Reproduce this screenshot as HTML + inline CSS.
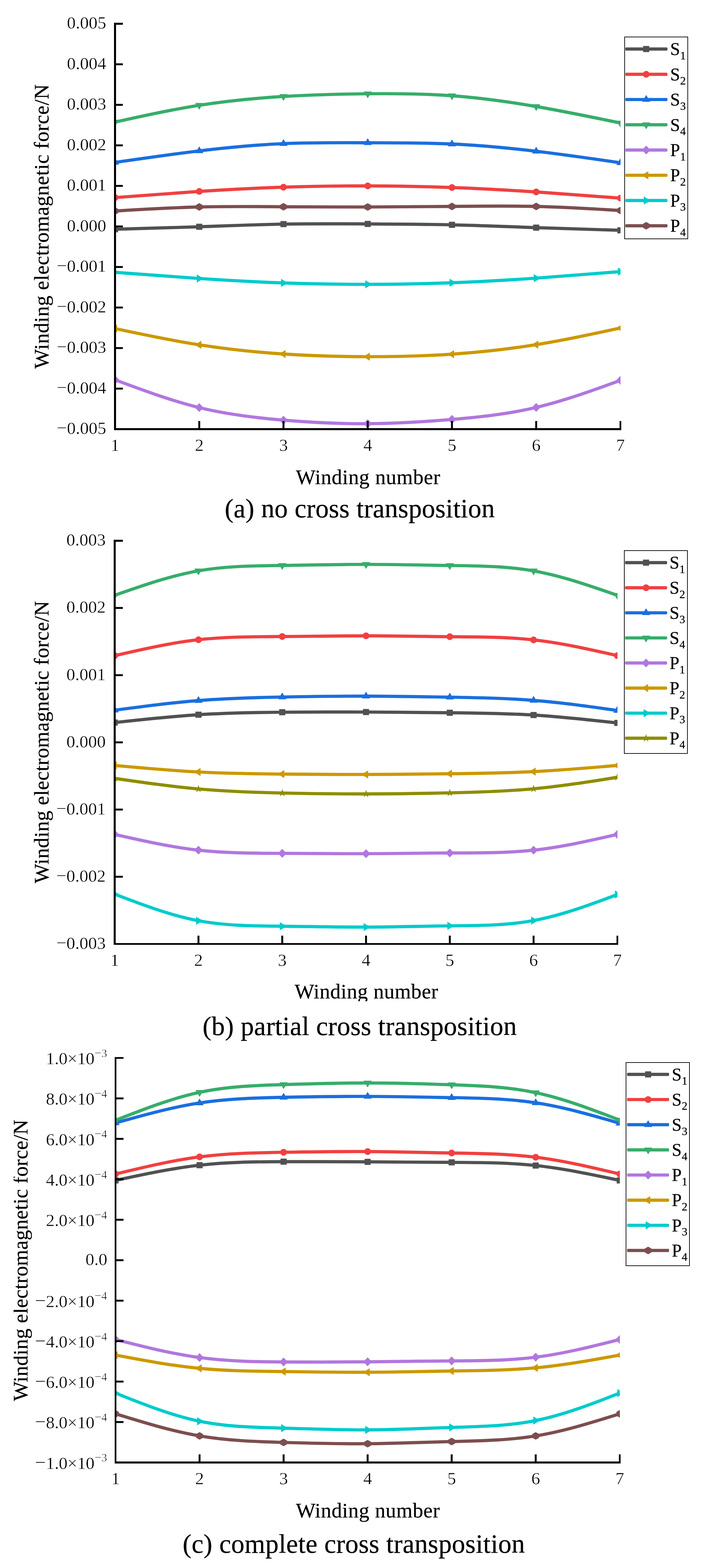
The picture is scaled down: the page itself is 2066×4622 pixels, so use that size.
<!DOCTYPE html>
<html lang="en">
<head>
<meta charset="utf-8">
<title>Winding electromagnetic force under different cross transposition schemes</title>
<style>
html,body{margin:0;padding:0;background:#ffffff;}
body{width:2066px;height:4622px;overflow:hidden;}
svg{display:block;}
svg text{font-family:'Liberation Serif', 'DejaVu Serif', serif;fill:#000;}
svg .t text{stroke:#fff;stroke-width:0.6px;}
svg .t text.ti,svg .t text.lg,svg #captions text{stroke:#000;stroke-width:0.35px;}
</style>
</head>
<body>
<svg width="2066" height="4622" viewBox="0 0 2066 4622">
<rect width="2066" height="4622" fill="#ffffff"/>
<g id="chart1" class="t">
<clipPath id="clip1"><rect x="339" y="67" width="1489.8" height="1198"/></clipPath>
<g clip-path="url(#clip1)">
<path d="M339,675.8C421.75,673.59 504.5,671.37 587.25,668.5C670,665.63 752.75,662.09 835.5,660.6C918.25,659.11 1001,659.67 1083.75,660.1C1166.5,660.53 1249.25,660.82 1332,662.7C1414.75,664.58 1497.5,668.04 1580.25,671C1663,673.96 1745.75,676.43 1828.5,678.9" fill="none" stroke="#515151" stroke-width="9.4" stroke-linejoin="round"/>
<rect x="330" y="666.8" width="18" height="18" fill="#515151"/>
<rect x="578.25" y="659.5" width="18" height="18" fill="#515151"/>
<rect x="826.5" y="651.6" width="18" height="18" fill="#515151"/>
<rect x="1074.75" y="651.1" width="18" height="18" fill="#515151"/>
<rect x="1323" y="653.7" width="18" height="18" fill="#515151"/>
<rect x="1571.25" y="662" width="18" height="18" fill="#515151"/>
<rect x="1819.5" y="669.9" width="18" height="18" fill="#515151"/>
<path d="M339,582.4C421.75,575.99 504.5,569.59 587.25,564.2C670,558.81 752.75,554.45 835.5,551.7C918.25,548.95 1001,547.82 1083.75,548C1166.5,548.18 1249.25,549.66 1332,552.7C1414.75,555.74 1497.5,560.32 1580.25,565.8C1663,571.28 1745.75,577.64 1828.5,584" fill="none" stroke="#F14040" stroke-width="9.4" stroke-linejoin="round"/>
<circle cx="339" cy="582.4" r="10" fill="#F14040"/>
<circle cx="587.25" cy="564.2" r="10" fill="#F14040"/>
<circle cx="835.5" cy="551.7" r="10" fill="#F14040"/>
<circle cx="1083.75" cy="548" r="10" fill="#F14040"/>
<circle cx="1332" cy="552.7" r="10" fill="#F14040"/>
<circle cx="1580.25" cy="565.8" r="10" fill="#F14040"/>
<circle cx="1828.5" cy="584" r="10" fill="#F14040"/>
<path d="M339,478.7C421.75,466.72 504.5,454.74 587.25,444.8C670,434.86 752.75,426.97 835.5,423.4C918.25,419.83 1001,420.57 1083.75,420.8C1166.5,421.03 1249.25,420.75 1332,424.5C1414.75,428.25 1497.5,436.03 1580.25,445.9C1663,455.77 1745.75,467.74 1828.5,479.7" fill="none" stroke="#1A6FDF" stroke-width="9.4" stroke-linejoin="round"/>
<polygon points="339,465.4 351,485.4 327,485.4" fill="#1A6FDF"/>
<polygon points="587.25,431.5 599.25,451.5 575.25,451.5" fill="#1A6FDF"/>
<polygon points="835.5,410.1 847.5,430.1 823.5,430.1" fill="#1A6FDF"/>
<polygon points="1083.75,407.5 1095.75,427.5 1071.75,427.5" fill="#1A6FDF"/>
<polygon points="1332,411.2 1344,431.2 1320,431.2" fill="#1A6FDF"/>
<polygon points="1580.25,432.6 1592.25,452.6 1568.25,452.6" fill="#1A6FDF"/>
<polygon points="1828.5,466.4 1840.5,486.4 1816.5,486.4" fill="#1A6FDF"/>
<path d="M339,359.8C421.75,341.58 504.5,323.37 587.25,310.3C670,297.23 752.75,289.31 835.5,284.3C918.25,279.29 1001,277.18 1083.75,276.4C1166.5,275.62 1249.25,276.18 1332,282.2C1414.75,288.22 1497.5,299.71 1580.25,314C1663,328.29 1745.75,345.4 1828.5,362.5" fill="none" stroke="#37AD6B" stroke-width="9.4" stroke-linejoin="round"/>
<polygon points="339,373.1 351,353.1 327,353.1" fill="#37AD6B"/>
<polygon points="587.25,323.6 599.25,303.6 575.25,303.6" fill="#37AD6B"/>
<polygon points="835.5,297.6 847.5,277.6 823.5,277.6" fill="#37AD6B"/>
<polygon points="1083.75,289.7 1095.75,269.7 1071.75,269.7" fill="#37AD6B"/>
<polygon points="1332,295.5 1344,275.5 1320,275.5" fill="#37AD6B"/>
<polygon points="1580.25,327.3 1592.25,307.3 1568.25,307.3" fill="#37AD6B"/>
<polygon points="1828.5,375.8 1840.5,355.8 1816.5,355.8" fill="#37AD6B"/>
<path d="M339,1119.6C421.75,1150.4 504.5,1181.2 587.25,1201.5C670,1221.8 752.75,1231.6 835.5,1238.5C918.25,1245.4 1001,1249.41 1083.75,1248.9C1166.5,1248.39 1249.25,1243.37 1332,1236.4C1414.75,1229.43 1497.5,1220.52 1580.25,1201C1663,1181.48 1745.75,1151.34 1828.5,1121.2" fill="none" stroke="#B177DE" stroke-width="9.4" stroke-linejoin="round"/>
<polygon points="339,1106.5 351.6,1119.6 339,1132.7 326.4,1119.6" fill="#B177DE"/>
<polygon points="587.25,1188.4 599.85,1201.5 587.25,1214.6 574.65,1201.5" fill="#B177DE"/>
<polygon points="835.5,1225.4 848.1,1238.5 835.5,1251.6 822.9,1238.5" fill="#B177DE"/>
<polygon points="1083.75,1235.8 1096.35,1248.9 1083.75,1262 1071.15,1248.9" fill="#B177DE"/>
<polygon points="1332,1223.3 1344.6,1236.4 1332,1249.5 1319.4,1236.4" fill="#B177DE"/>
<polygon points="1580.25,1187.9 1592.85,1201 1580.25,1214.1 1567.65,1201" fill="#B177DE"/>
<polygon points="1828.5,1108.1 1841.1,1121.2 1828.5,1134.3 1815.9,1121.2" fill="#B177DE"/>
<path d="M339,968.5C421.75,985.94 504.5,1003.37 587.25,1016.4C670,1029.43 752.75,1038.04 835.5,1043.5C918.25,1048.96 1001,1051.25 1083.75,1051.4C1166.5,1051.55 1249.25,1049.55 1332,1044C1414.75,1038.45 1497.5,1029.34 1580.25,1015.9C1663,1002.46 1745.75,984.68 1828.5,966.9" fill="none" stroke="#CC9900" stroke-width="9.4" stroke-linejoin="round"/>
<polygon points="325.7,968.5 345.2,956.5 345.2,980.5" fill="#CC9900"/>
<polygon points="573.95,1016.4 593.45,1004.4 593.45,1028.4" fill="#CC9900"/>
<polygon points="822.2,1043.5 841.7,1031.5 841.7,1055.5" fill="#CC9900"/>
<polygon points="1070.45,1051.4 1089.95,1039.4 1089.95,1063.4" fill="#CC9900"/>
<polygon points="1318.7,1044 1338.2,1032 1338.2,1056" fill="#CC9900"/>
<polygon points="1566.95,1015.9 1586.45,1003.9 1586.45,1027.9" fill="#CC9900"/>
<polygon points="1815.2,966.9 1834.7,954.9 1834.7,978.9" fill="#CC9900"/>
<path d="M339,802.7C421.75,809.05 504.5,815.4 587.25,820.9C670,826.4 752.75,831.05 835.5,834C918.25,836.95 1001,838.19 1083.75,838.1C1166.5,838.01 1249.25,836.59 1332,833.5C1414.75,830.41 1497.5,825.66 1580.25,819.9C1663,814.14 1745.75,807.37 1828.5,800.6" fill="none" stroke="#00CBCC" stroke-width="9.4" stroke-linejoin="round"/>
<polygon points="352.3,802.7 331.8,790.7 331.8,814.7" fill="#00CBCC"/>
<polygon points="600.55,820.9 580.05,808.9 580.05,832.9" fill="#00CBCC"/>
<polygon points="848.8,834 828.3,822 828.3,846" fill="#00CBCC"/>
<polygon points="1097.05,838.1 1076.55,826.1 1076.55,850.1" fill="#00CBCC"/>
<polygon points="1345.3,833.5 1324.8,821.5 1324.8,845.5" fill="#00CBCC"/>
<polygon points="1593.55,819.9 1573.05,807.9 1573.05,831.9" fill="#00CBCC"/>
<polygon points="1841.8,800.6 1821.3,788.6 1821.3,812.6" fill="#00CBCC"/>
<path d="M339,622C421.75,617.01 504.5,612.02 587.25,610C670,607.98 752.75,608.92 835.5,609.5C918.25,610.08 1001,610.28 1083.75,610.1C1166.5,609.92 1249.25,609.34 1332,608.5C1414.75,607.66 1497.5,606.54 1580.25,608.5C1663,610.46 1745.75,615.48 1828.5,620.5" fill="none" stroke="#7D4E4E" stroke-width="9.4" stroke-linejoin="round"/>
<polygon points="339,610.8 349,616.4 349,627.6 339,633.2 329,627.6 329,616.4" fill="#7D4E4E"/>
<polygon points="587.25,598.8 597.25,604.4 597.25,615.6 587.25,621.2 577.25,615.6 577.25,604.4" fill="#7D4E4E"/>
<polygon points="835.5,598.3 845.5,603.9 845.5,615.1 835.5,620.7 825.5,615.1 825.5,603.9" fill="#7D4E4E"/>
<polygon points="1083.75,598.9 1093.75,604.5 1093.75,615.7 1083.75,621.3 1073.75,615.7 1073.75,604.5" fill="#7D4E4E"/>
<polygon points="1332,597.3 1342,602.9 1342,614.1 1332,619.7 1322,614.1 1322,602.9" fill="#7D4E4E"/>
<polygon points="1580.25,597.3 1590.25,602.9 1590.25,614.1 1580.25,619.7 1570.25,614.1 1570.25,602.9" fill="#7D4E4E"/>
<polygon points="1828.5,609.3 1838.5,614.9 1838.5,626.1 1828.5,631.7 1818.5,626.1 1818.5,614.9" fill="#7D4E4E"/>
</g>
<g fill="#000" shape-rendering="crispEdges">
<rect x="336" y="67" width="6" height="1201"/>
<rect x="336" y="1262" width="1495" height="6"/>
<rect x="336" y="67" width="26" height="6"/>
<rect x="1826" y="1241" width="5" height="27"/>
</g>
<g fill="#000">
<rect x="337" y="186.7" width="25" height="5.6"/>
<rect x="337" y="306.2" width="25" height="5.6"/>
<rect x="337" y="425.7" width="25" height="5.6"/>
<rect x="337" y="545.2" width="25" height="5.6"/>
<rect x="337" y="664.7" width="25" height="5.6"/>
<rect x="337" y="784.2" width="25" height="5.6"/>
<rect x="337" y="903.7" width="25" height="5.6"/>
<rect x="337" y="1023.2" width="25" height="5.6"/>
<rect x="337" y="1142.7" width="25" height="5.6"/>
<rect x="584.45" y="1241" width="5.6" height="26"/>
<rect x="832.7" y="1241" width="5.6" height="26"/>
<rect x="1080.95" y="1241" width="5.6" height="26"/>
<rect x="1329.2" y="1241" width="5.6" height="26"/>
<rect x="1577.45" y="1241" width="5.6" height="26"/>
</g>
<g font-size="51.5" text-anchor="end" letter-spacing="0">
<text x="313.1" y="84.4">0.005</text>
<text x="313.1" y="203.9">0.004</text>
<text x="313.1" y="323.4">0.003</text>
<text x="313.1" y="442.9">0.002</text>
<text x="313.1" y="562.4">0.001</text>
<text x="313.1" y="681.9">0.000</text>
<text x="313.1" y="801.4"><tspan font-size="53.5">−</tspan>0.001</text>
<text x="313.1" y="920.9"><tspan font-size="53.5">−</tspan>0.002</text>
<text x="313.1" y="1040.4"><tspan font-size="53.5">−</tspan>0.003</text>
<text x="313.1" y="1159.9"><tspan font-size="53.5">−</tspan>0.004</text>
<text x="313.1" y="1279.4"><tspan font-size="53.5">−</tspan>0.005</text>
</g>
<g font-size="51.5" text-anchor="middle">
<text x="339" y="1329">1</text>
<text x="587.25" y="1329">2</text>
<text x="835.5" y="1329">3</text>
<text x="1083.75" y="1329">4</text>
<text x="1332" y="1329">5</text>
<text x="1580.25" y="1329">6</text>
<text x="1828.5" y="1329">7</text>
</g>
<text transform="translate(143,1086.9) rotate(-90)" font-size="61.3" letter-spacing="0.569" class="ti">Winding electromagnetic force/N</text>
<text x="872" y="1427.3" font-size="61.3" letter-spacing="0.828" class="ti">Winding number</text>
<rect x="1841.1" y="109.1" width="185.8" height="595.3" fill="#fff" stroke="#000" stroke-width="2.2" shape-rendering="crispEdges"/>
<rect x="1843" y="139.85" width="124.2" height="9.4" rx="3" fill="#515151"/>
<rect x="1895.5" y="135.55" width="18" height="18" fill="#515151"/>
<text class="lg" x="1975.3" y="162.25" font-size="52">S<tspan font-size="33.5" dx="0.3" dy="12.6">1</tspan></text>
<rect x="1843" y="214.27" width="124.2" height="9.4" rx="3" fill="#F14040"/>
<circle cx="1904.5" cy="218.97" r="10" fill="#F14040"/>
<text class="lg" x="1975.3" y="236.67" font-size="52">S<tspan font-size="33.5" dx="0.3" dy="12.6">2</tspan></text>
<rect x="1843" y="288.69" width="124.2" height="9.4" rx="3" fill="#1A6FDF"/>
<polygon points="1904.5,280.09 1916.5,300.09 1892.5,300.09" fill="#1A6FDF"/>
<text class="lg" x="1975.3" y="311.09" font-size="52">S<tspan font-size="33.5" dx="0.3" dy="12.6">3</tspan></text>
<rect x="1843" y="363.11" width="124.2" height="9.4" rx="3" fill="#37AD6B"/>
<polygon points="1904.5,381.11 1916.5,361.11 1892.5,361.11" fill="#37AD6B"/>
<text class="lg" x="1975.3" y="385.51" font-size="52">S<tspan font-size="33.5" dx="0.3" dy="12.6">4</tspan></text>
<rect x="1843" y="437.53" width="124.2" height="9.4" rx="3" fill="#B177DE"/>
<polygon points="1904.5,429.13 1917.1,442.23 1904.5,455.33 1891.9,442.23" fill="#B177DE"/>
<text class="lg" x="1975.3" y="459.93" font-size="52">P<tspan font-size="33.5" dx="0.3" dy="12.6">1</tspan></text>
<rect x="1843" y="511.95" width="124.2" height="9.4" rx="3" fill="#CC9900"/>
<polygon points="1891.2,516.65 1910.7,504.65 1910.7,528.65" fill="#CC9900"/>
<text class="lg" x="1975.3" y="534.35" font-size="52">P<tspan font-size="33.5" dx="0.3" dy="12.6">2</tspan></text>
<rect x="1843" y="586.37" width="124.2" height="9.4" rx="3" fill="#00CBCC"/>
<polygon points="1917.8,591.07 1897.3,579.07 1897.3,603.07" fill="#00CBCC"/>
<text class="lg" x="1975.3" y="608.77" font-size="52">P<tspan font-size="33.5" dx="0.3" dy="12.6">3</tspan></text>
<rect x="1843" y="660.79" width="124.2" height="9.4" rx="3" fill="#7D4E4E"/>
<polygon points="1904.5,654.29 1914.5,659.89 1914.5,671.09 1904.5,676.69 1894.5,671.09 1894.5,659.89" fill="#7D4E4E"/>
<text class="lg" x="1975.3" y="683.19" font-size="52">P<tspan font-size="33.5" dx="0.3" dy="12.6">4</tspan></text>
</g>
<g id="chart2" class="t">
<clipPath id="clip2"><rect x="338" y="1591" width="1481.8" height="1191.5"/></clipPath>
<g clip-path="url(#clip2)">
<path d="M338,2129.9C420.31,2120.89 502.61,2111.89 584.92,2106.7C667.22,2101.51 749.53,2100.15 831.83,2099.4C914.14,2098.65 996.44,2098.53 1078.75,2098.9C1161.06,2099.27 1243.36,2100.14 1325.67,2101C1407.97,2101.86 1490.28,2102.7 1572.58,2107.7C1654.89,2112.7 1737.19,2121.85 1819.5,2131" fill="none" stroke="#515151" stroke-width="9.4" stroke-linejoin="round"/>
<rect x="329" y="2120.9" width="18" height="18" fill="#515151"/>
<rect x="575.92" y="2097.7" width="18" height="18" fill="#515151"/>
<rect x="822.83" y="2090.4" width="18" height="18" fill="#515151"/>
<rect x="1069.75" y="2089.9" width="18" height="18" fill="#515151"/>
<rect x="1316.67" y="2092" width="18" height="18" fill="#515151"/>
<rect x="1563.58" y="2098.7" width="18" height="18" fill="#515151"/>
<rect x="1810.5" y="2122" width="18" height="18" fill="#515151"/>
<path d="M338,1932.6C420.31,1913.76 502.61,1894.92 584.92,1885.7C667.22,1876.48 749.53,1876.9 831.83,1876.3C914.14,1875.7 996.44,1874.1 1078.75,1874.2C1161.06,1874.3 1243.36,1876.1 1325.67,1876.8C1407.97,1877.5 1490.28,1877.08 1572.58,1886.2C1654.89,1895.32 1737.19,1913.96 1819.5,1932.6" fill="none" stroke="#F14040" stroke-width="9.4" stroke-linejoin="round"/>
<circle cx="338" cy="1932.6" r="10" fill="#F14040"/>
<circle cx="584.92" cy="1885.7" r="10" fill="#F14040"/>
<circle cx="831.83" cy="1876.3" r="10" fill="#F14040"/>
<circle cx="1078.75" cy="1874.2" r="10" fill="#F14040"/>
<circle cx="1325.67" cy="1876.8" r="10" fill="#F14040"/>
<circle cx="1572.58" cy="1886.2" r="10" fill="#F14040"/>
<circle cx="1819.5" cy="1932.6" r="10" fill="#F14040"/>
<path d="M338,2093.4C420.31,2082.48 502.61,2071.56 584.92,2065C667.22,2058.44 749.53,2056.25 831.83,2054.6C914.14,2052.95 996.44,2051.82 1078.75,2052C1161.06,2052.18 1243.36,2053.65 1325.67,2055.1C1407.97,2056.55 1490.28,2057.99 1572.58,2064.5C1654.89,2071.01 1737.19,2082.61 1819.5,2094.2" fill="none" stroke="#1A6FDF" stroke-width="9.4" stroke-linejoin="round"/>
<polygon points="338,2080.1 350,2100.1 326,2100.1" fill="#1A6FDF"/>
<polygon points="584.92,2051.7 596.92,2071.7 572.92,2071.7" fill="#1A6FDF"/>
<polygon points="831.83,2041.3 843.83,2061.3 819.83,2061.3" fill="#1A6FDF"/>
<polygon points="1078.75,2038.7 1090.75,2058.7 1066.75,2058.7" fill="#1A6FDF"/>
<polygon points="1325.67,2041.8 1337.67,2061.8 1313.67,2061.8" fill="#1A6FDF"/>
<polygon points="1572.58,2051.2 1584.58,2071.2 1560.58,2071.2" fill="#1A6FDF"/>
<polygon points="1819.5,2080.9 1831.5,2100.9 1807.5,2100.9" fill="#1A6FDF"/>
<path d="M338,1754.8C420.31,1725.95 502.61,1697.11 584.92,1682.6C667.22,1668.09 749.53,1667.93 831.83,1666.8C914.14,1665.67 996.44,1663.59 1078.75,1663.6C1161.06,1663.61 1243.36,1665.73 1325.67,1666.9C1407.97,1668.07 1490.28,1668.31 1572.58,1682.8C1654.89,1697.29 1737.19,1726.05 1819.5,1754.8" fill="none" stroke="#37AD6B" stroke-width="9.4" stroke-linejoin="round"/>
<polygon points="338,1768.1 350,1748.1 326,1748.1" fill="#37AD6B"/>
<polygon points="584.92,1695.9 596.92,1675.9 572.92,1675.9" fill="#37AD6B"/>
<polygon points="831.83,1680.1 843.83,1660.1 819.83,1660.1" fill="#37AD6B"/>
<polygon points="1078.75,1676.9 1090.75,1656.9 1066.75,1656.9" fill="#37AD6B"/>
<polygon points="1325.67,1680.2 1337.67,1660.2 1313.67,1660.2" fill="#37AD6B"/>
<polygon points="1572.58,1696.1 1584.58,1676.1 1560.58,1676.1" fill="#37AD6B"/>
<polygon points="1819.5,1768.1 1831.5,1748.1 1807.5,1748.1" fill="#37AD6B"/>
<path d="M338,2459.6C420.31,2478.2 502.61,2496.79 584.92,2506C667.22,2515.21 749.53,2515.03 831.83,2515.4C914.14,2515.77 996.44,2516.69 1078.75,2516.4C1161.06,2516.11 1243.36,2514.6 1325.67,2514.3C1407.97,2514 1490.28,2514.91 1572.58,2506C1654.89,2497.09 1737.19,2478.34 1819.5,2459.6" fill="none" stroke="#B177DE" stroke-width="9.4" stroke-linejoin="round"/>
<polygon points="338,2446.5 350.6,2459.6 338,2472.7 325.4,2459.6" fill="#B177DE"/>
<polygon points="584.92,2492.9 597.52,2506 584.92,2519.1 572.32,2506" fill="#B177DE"/>
<polygon points="831.83,2502.3 844.43,2515.4 831.83,2528.5 819.23,2515.4" fill="#B177DE"/>
<polygon points="1078.75,2503.3 1091.35,2516.4 1078.75,2529.5 1066.15,2516.4" fill="#B177DE"/>
<polygon points="1325.67,2501.2 1338.27,2514.3 1325.67,2527.4 1313.07,2514.3" fill="#B177DE"/>
<polygon points="1572.58,2492.9 1585.18,2506 1572.58,2519.1 1559.98,2506" fill="#B177DE"/>
<polygon points="1819.5,2446.5 1832.1,2459.6 1819.5,2472.7 1806.9,2459.6" fill="#B177DE"/>
<path d="M338,2256.3C420.31,2263.8 502.61,2271.3 584.92,2275.6C667.22,2279.9 749.53,2281 831.83,2281.8C914.14,2282.6 996.44,2283.09 1078.75,2282.9C1161.06,2282.71 1243.36,2281.82 1325.67,2280.8C1407.97,2279.78 1490.28,2278.61 1572.58,2274.5C1654.89,2270.39 1737.19,2263.35 1819.5,2256.3" fill="none" stroke="#CC9900" stroke-width="9.4" stroke-linejoin="round"/>
<polygon points="324.7,2256.3 344.2,2244.3 344.2,2268.3" fill="#CC9900"/>
<polygon points="571.62,2275.6 591.12,2263.6 591.12,2287.6" fill="#CC9900"/>
<polygon points="818.53,2281.8 838.03,2269.8 838.03,2293.8" fill="#CC9900"/>
<polygon points="1065.45,2282.9 1084.95,2270.9 1084.95,2294.9" fill="#CC9900"/>
<polygon points="1312.37,2280.8 1331.87,2268.8 1331.87,2292.8" fill="#CC9900"/>
<polygon points="1559.28,2274.5 1578.78,2262.5 1578.78,2286.5" fill="#CC9900"/>
<polygon points="1806.2,2256.3 1825.7,2244.3 1825.7,2268.3" fill="#CC9900"/>
<path d="M338,2635.8C420.31,2667.12 502.61,2698.45 584.92,2714C667.22,2729.55 749.53,2729.33 831.83,2730.2C914.14,2731.07 996.44,2733.05 1078.75,2732.8C1161.06,2732.55 1243.36,2730.08 1325.67,2729.1C1407.97,2728.12 1490.28,2728.63 1572.58,2713.5C1654.89,2698.37 1737.19,2667.58 1819.5,2636.8" fill="none" stroke="#00CBCC" stroke-width="9.4" stroke-linejoin="round"/>
<polygon points="351.3,2635.8 330.8,2623.8 330.8,2647.8" fill="#00CBCC"/>
<polygon points="598.22,2714 577.72,2702 577.72,2726" fill="#00CBCC"/>
<polygon points="845.13,2730.2 824.63,2718.2 824.63,2742.2" fill="#00CBCC"/>
<polygon points="1092.05,2732.8 1071.55,2720.8 1071.55,2744.8" fill="#00CBCC"/>
<polygon points="1338.97,2729.1 1318.47,2717.1 1318.47,2741.1" fill="#00CBCC"/>
<polygon points="1585.88,2713.5 1565.38,2701.5 1565.38,2725.5" fill="#00CBCC"/>
<polygon points="1832.8,2636.8 1812.3,2624.8 1812.3,2648.8" fill="#00CBCC"/>
<path d="M338,2294.4C420.31,2306.32 502.61,2318.24 584.92,2325.6C667.22,2332.96 749.53,2335.76 831.83,2337.6C914.14,2339.44 996.44,2340.34 1078.75,2340.2C1161.06,2340.06 1243.36,2338.9 1325.67,2337.1C1407.97,2335.3 1490.28,2332.86 1572.58,2325.1C1654.89,2317.34 1737.19,2304.27 1819.5,2291.2" fill="none" stroke="#8E8E00" stroke-width="9.4" stroke-linejoin="round"/>
<polygon points="338,2282.4 340.7,2290.68 349.41,2290.69 342.37,2295.82 345.05,2304.11 338,2299 330.95,2304.11 333.63,2295.82 326.59,2290.69 335.3,2290.68" fill="#8E8E00"/>
<polygon points="584.92,2313.6 587.62,2321.88 596.33,2321.89 589.29,2327.02 591.97,2335.31 584.92,2330.2 577.86,2335.31 580.54,2327.02 573.5,2321.89 582.21,2321.88" fill="#8E8E00"/>
<polygon points="831.83,2325.6 834.54,2333.88 843.25,2333.89 836.21,2339.02 838.89,2347.31 831.83,2342.2 824.78,2347.31 827.46,2339.02 820.42,2333.89 829.13,2333.88" fill="#8E8E00"/>
<polygon points="1078.75,2328.2 1081.45,2336.48 1090.16,2336.49 1083.12,2341.62 1085.8,2349.91 1078.75,2344.8 1071.7,2349.91 1074.38,2341.62 1067.34,2336.49 1076.05,2336.48" fill="#8E8E00"/>
<polygon points="1325.67,2325.1 1328.37,2333.38 1337.08,2333.39 1330.04,2338.52 1332.72,2346.81 1325.67,2341.7 1318.61,2346.81 1321.29,2338.52 1314.25,2333.39 1322.96,2333.38" fill="#8E8E00"/>
<polygon points="1572.58,2313.1 1575.29,2321.38 1584,2321.39 1576.96,2326.52 1579.64,2334.81 1572.58,2329.7 1565.53,2334.81 1568.21,2326.52 1561.17,2321.39 1569.88,2321.38" fill="#8E8E00"/>
<polygon points="1819.5,2279.2 1822.2,2287.48 1830.91,2287.49 1823.87,2292.62 1826.55,2300.91 1819.5,2295.8 1812.45,2300.91 1815.13,2292.62 1808.09,2287.49 1816.8,2287.48" fill="#8E8E00"/>
</g>
<g fill="#000" shape-rendering="crispEdges">
<rect x="335" y="1591" width="6" height="1194"/>
<rect x="335" y="2780" width="1487" height="5"/>
<rect x="335" y="1591" width="27" height="6"/>
<rect x="1817" y="2758" width="5" height="27"/>
</g>
<g fill="#000">
<rect x="336" y="1789.28" width="26" height="5.6"/>
<rect x="336" y="1987.37" width="26" height="5.6"/>
<rect x="336" y="2185.45" width="26" height="5.6"/>
<rect x="336" y="2383.53" width="26" height="5.6"/>
<rect x="336" y="2581.62" width="26" height="5.6"/>
<rect x="582.12" y="2758" width="5.6" height="26"/>
<rect x="829.03" y="2758" width="5.6" height="26"/>
<rect x="1075.95" y="2758" width="5.6" height="26"/>
<rect x="1322.87" y="2758" width="5.6" height="26"/>
<rect x="1569.78" y="2758" width="5.6" height="26"/>
</g>
<g font-size="51.5" text-anchor="end" letter-spacing="0">
<text x="311.6" y="1608.4">0.003</text>
<text x="311.6" y="1806.48">0.002</text>
<text x="311.6" y="2004.57">0.001</text>
<text x="311.6" y="2202.65">0.000</text>
<text x="311.6" y="2400.73"><tspan font-size="53.5">−</tspan>0.001</text>
<text x="311.6" y="2598.82"><tspan font-size="53.5">−</tspan>0.002</text>
<text x="311.6" y="2796.9"><tspan font-size="53.5">−</tspan>0.003</text>
</g>
<g font-size="51.5" text-anchor="middle">
<text x="338" y="2846.7">1</text>
<text x="584.92" y="2846.7">2</text>
<text x="831.83" y="2846.7">3</text>
<text x="1078.75" y="2846.7">4</text>
<text x="1325.67" y="2846.7">5</text>
<text x="1572.58" y="2846.7">6</text>
<text x="1819.5" y="2846.7">7</text>
</g>
<text transform="translate(143,2604) rotate(-90)" font-size="61.3" letter-spacing="0.375" class="ti">Winding electromagnetic force/N</text>
<clipPath id="tclip2"><rect x="0" y="2863.2" width="2066" height="88.1"/></clipPath>
<g clip-path="url(#tclip2)">
<text x="868.2" y="2943.2" font-size="61.3" letter-spacing="0.643" class="ti">Winding number</text>
</g>
<rect x="1840.1" y="1623.1" width="185.8" height="597.8" fill="#fff" stroke="#000" stroke-width="2.2" shape-rendering="crispEdges"/>
<rect x="1842" y="1653.85" width="124.2" height="9.4" rx="3" fill="#515151"/>
<rect x="1895" y="1649.55" width="18" height="18" fill="#515151"/>
<text class="lg" x="1973.3" y="1676.25" font-size="52">S<tspan font-size="33.5" dx="0.3" dy="12.6">1</tspan></text>
<rect x="1842" y="1727.78" width="124.2" height="9.4" rx="3" fill="#F14040"/>
<circle cx="1904" cy="1732.48" r="10" fill="#F14040"/>
<text class="lg" x="1973.3" y="1750.18" font-size="52">S<tspan font-size="33.5" dx="0.3" dy="12.6">2</tspan></text>
<rect x="1842" y="1801.71" width="124.2" height="9.4" rx="3" fill="#1A6FDF"/>
<polygon points="1904,1793.11 1916,1813.11 1892,1813.11" fill="#1A6FDF"/>
<text class="lg" x="1973.3" y="1824.11" font-size="52">S<tspan font-size="33.5" dx="0.3" dy="12.6">3</tspan></text>
<rect x="1842" y="1875.64" width="124.2" height="9.4" rx="3" fill="#37AD6B"/>
<polygon points="1904,1893.64 1916,1873.64 1892,1873.64" fill="#37AD6B"/>
<text class="lg" x="1973.3" y="1898.04" font-size="52">S<tspan font-size="33.5" dx="0.3" dy="12.6">4</tspan></text>
<rect x="1842" y="1949.57" width="124.2" height="9.4" rx="3" fill="#B177DE"/>
<polygon points="1904,1941.17 1916.6,1954.27 1904,1967.37 1891.4,1954.27" fill="#B177DE"/>
<text class="lg" x="1973.3" y="1971.97" font-size="52">P<tspan font-size="33.5" dx="0.3" dy="12.6">1</tspan></text>
<rect x="1842" y="2023.5" width="124.2" height="9.4" rx="3" fill="#CC9900"/>
<polygon points="1890.7,2028.2 1910.2,2016.2 1910.2,2040.2" fill="#CC9900"/>
<text class="lg" x="1973.3" y="2045.9" font-size="52">P<tspan font-size="33.5" dx="0.3" dy="12.6">2</tspan></text>
<rect x="1842" y="2097.43" width="124.2" height="9.4" rx="3" fill="#00CBCC"/>
<polygon points="1917.3,2102.13 1896.8,2090.13 1896.8,2114.13" fill="#00CBCC"/>
<text class="lg" x="1973.3" y="2119.83" font-size="52">P<tspan font-size="33.5" dx="0.3" dy="12.6">3</tspan></text>
<rect x="1842" y="2171.36" width="124.2" height="9.4" rx="3" fill="#8E8E00"/>
<polygon points="1904,2164.06 1906.7,2172.34 1915.41,2172.35 1908.37,2177.48 1911.05,2185.77 1904,2180.66 1896.95,2185.77 1899.63,2177.48 1892.59,2172.35 1901.3,2172.34" fill="#8E8E00"/>
<text class="lg" x="1973.3" y="2193.76" font-size="52">P<tspan font-size="33.5" dx="0.3" dy="12.6">4</tspan></text>
</g>
<g id="chart3" class="t">
<clipPath id="clip3"><rect x="340.5" y="3116" width="1486.3" height="1195"/></clipPath>
<g clip-path="url(#clip3)">
<path d="M340.5,3479.5C423.06,3461.76 505.61,3444.02 588.17,3434.7C670.72,3425.38 753.28,3424.47 835.83,3424.2C918.39,3423.93 1000.94,3424.31 1083.5,3424.8C1166.06,3425.29 1248.61,3425.91 1331.17,3426.3C1413.72,3426.69 1496.28,3426.87 1578.83,3435.7C1661.39,3444.53 1743.94,3462.02 1826.5,3479.5" fill="none" stroke="#515151" stroke-width="9.4" stroke-linejoin="round"/>
<rect x="331.5" y="3470.5" width="18" height="18" fill="#515151"/>
<rect x="579.17" y="3425.7" width="18" height="18" fill="#515151"/>
<rect x="826.83" y="3415.2" width="18" height="18" fill="#515151"/>
<rect x="1074.5" y="3415.8" width="18" height="18" fill="#515151"/>
<rect x="1322.17" y="3417.3" width="18" height="18" fill="#515151"/>
<rect x="1569.83" y="3426.7" width="18" height="18" fill="#515151"/>
<rect x="1817.5" y="3470.5" width="18" height="18" fill="#515151"/>
<path d="M340.5,3460.7C423.06,3440.8 505.61,3420.91 588.17,3410.2C670.72,3399.49 753.28,3397.97 835.83,3396.6C918.39,3395.23 1000.94,3394.01 1083.5,3394.5C1166.06,3394.99 1248.61,3397.2 1331.17,3398.7C1413.72,3400.2 1496.28,3400.99 1578.83,3411.2C1661.39,3421.41 1743.94,3441.06 1826.5,3460.7" fill="none" stroke="#F14040" stroke-width="9.4" stroke-linejoin="round"/>
<circle cx="340.5" cy="3460.7" r="10" fill="#F14040"/>
<circle cx="588.17" cy="3410.2" r="10" fill="#F14040"/>
<circle cx="835.83" cy="3396.6" r="10" fill="#F14040"/>
<circle cx="1083.5" cy="3394.5" r="10" fill="#F14040"/>
<circle cx="1331.17" cy="3398.7" r="10" fill="#F14040"/>
<circle cx="1578.83" cy="3411.2" r="10" fill="#F14040"/>
<circle cx="1826.5" cy="3460.7" r="10" fill="#F14040"/>
<path d="M340.5,3310.1C423.06,3287 505.61,3263.89 588.17,3251.2C670.72,3238.51 753.28,3236.23 835.83,3234.5C918.39,3232.77 1000.94,3231.59 1083.5,3231.9C1166.06,3232.21 1248.61,3234.01 1331.17,3235.5C1413.72,3236.99 1496.28,3238.15 1578.83,3250.7C1661.39,3263.25 1743.94,3287.17 1826.5,3311.1" fill="none" stroke="#1A6FDF" stroke-width="9.4" stroke-linejoin="round"/>
<polygon points="340.5,3296.8 352.5,3316.8 328.5,3316.8" fill="#1A6FDF"/>
<polygon points="588.17,3237.9 600.17,3257.9 576.17,3257.9" fill="#1A6FDF"/>
<polygon points="835.83,3221.2 847.83,3241.2 823.83,3241.2" fill="#1A6FDF"/>
<polygon points="1083.5,3218.6 1095.5,3238.6 1071.5,3238.6" fill="#1A6FDF"/>
<polygon points="1331.17,3222.2 1343.17,3242.2 1319.17,3242.2" fill="#1A6FDF"/>
<polygon points="1578.83,3237.4 1590.83,3257.4 1566.83,3257.4" fill="#1A6FDF"/>
<polygon points="1826.5,3297.8 1838.5,3317.8 1814.5,3317.8" fill="#1A6FDF"/>
<path d="M340.5,3302.3C423.06,3269.9 505.61,3237.5 588.17,3219.9C670.72,3202.3 753.28,3199.52 835.83,3197C918.39,3194.48 1000.94,3192.24 1083.5,3192.3C1166.06,3192.36 1248.61,3194.72 1331.17,3197.5C1413.72,3200.28 1496.28,3203.46 1578.83,3220.9C1661.39,3238.34 1743.94,3270.02 1826.5,3301.7" fill="none" stroke="#37AD6B" stroke-width="9.4" stroke-linejoin="round"/>
<polygon points="340.5,3315.6 352.5,3295.6 328.5,3295.6" fill="#37AD6B"/>
<polygon points="588.17,3233.2 600.17,3213.2 576.17,3213.2" fill="#37AD6B"/>
<polygon points="835.83,3210.3 847.83,3190.3 823.83,3190.3" fill="#37AD6B"/>
<polygon points="1083.5,3205.6 1095.5,3185.6 1071.5,3185.6" fill="#37AD6B"/>
<polygon points="1331.17,3210.8 1343.17,3190.8 1319.17,3190.8" fill="#37AD6B"/>
<polygon points="1578.83,3234.2 1590.83,3214.2 1566.83,3214.2" fill="#37AD6B"/>
<polygon points="1826.5,3315 1838.5,3295 1814.5,3295" fill="#37AD6B"/>
<path d="M340.5,3948.5C423.06,3969.52 505.61,3990.53 588.17,4001.7C670.72,4012.87 753.28,4014.18 835.83,4014.7C918.39,4015.22 1000.94,4014.95 1083.5,4014.2C1166.06,4013.45 1248.61,4012.21 1331.17,4011.6C1413.72,4010.99 1496.28,4011.01 1578.83,4000.6C1661.39,3990.19 1743.94,3969.34 1826.5,3948.5" fill="none" stroke="#B177DE" stroke-width="9.4" stroke-linejoin="round"/>
<polygon points="340.5,3935.4 353.1,3948.5 340.5,3961.6 327.9,3948.5" fill="#B177DE"/>
<polygon points="588.17,3988.6 600.77,4001.7 588.17,4014.8 575.57,4001.7" fill="#B177DE"/>
<polygon points="835.83,4001.6 848.43,4014.7 835.83,4027.8 823.23,4014.7" fill="#B177DE"/>
<polygon points="1083.5,4001.1 1096.1,4014.2 1083.5,4027.3 1070.9,4014.2" fill="#B177DE"/>
<polygon points="1331.17,3998.5 1343.77,4011.6 1331.17,4024.7 1318.57,4011.6" fill="#B177DE"/>
<polygon points="1578.83,3987.5 1591.43,4000.6 1578.83,4013.7 1566.23,4000.6" fill="#B177DE"/>
<polygon points="1826.5,3935.4 1839.1,3948.5 1826.5,3961.6 1813.9,3948.5" fill="#B177DE"/>
<path d="M340.5,3994.4C423.06,4009.95 505.61,4025.5 588.17,4033.5C670.72,4041.5 753.28,4041.94 835.83,4042.9C918.39,4043.86 1000.94,4045.32 1083.5,4045C1166.06,4044.68 1248.61,4042.58 1331.17,4041.3C1413.72,4040.02 1496.28,4039.58 1578.83,4031.9C1661.39,4024.22 1743.94,4009.31 1826.5,3994.4" fill="none" stroke="#CC9900" stroke-width="9.4" stroke-linejoin="round"/>
<polygon points="327.2,3994.4 346.7,3982.4 346.7,4006.4" fill="#CC9900"/>
<polygon points="574.87,4033.5 594.37,4021.5 594.37,4045.5" fill="#CC9900"/>
<polygon points="822.53,4042.9 842.03,4030.9 842.03,4054.9" fill="#CC9900"/>
<polygon points="1070.2,4045 1089.7,4033 1089.7,4057" fill="#CC9900"/>
<polygon points="1317.87,4041.3 1337.37,4029.3 1337.37,4053.3" fill="#CC9900"/>
<polygon points="1565.53,4031.9 1585.03,4019.9 1585.03,4043.9" fill="#CC9900"/>
<polygon points="1813.2,3994.4 1832.7,3982.4 1832.7,4006.4" fill="#CC9900"/>
<path d="M340.5,4106.5C423.06,4139.45 505.61,4172.39 588.17,4189.4C670.72,4206.41 753.28,4207.47 835.83,4209.7C918.39,4211.93 1000.94,4215.32 1083.5,4214.9C1166.06,4214.48 1248.61,4210.25 1331.17,4207.6C1413.72,4204.95 1496.28,4203.89 1578.83,4187.3C1661.39,4170.71 1743.94,4138.61 1826.5,4106.5" fill="none" stroke="#00CBCC" stroke-width="9.4" stroke-linejoin="round"/>
<polygon points="353.8,4106.5 333.3,4094.5 333.3,4118.5" fill="#00CBCC"/>
<polygon points="601.47,4189.4 580.97,4177.4 580.97,4201.4" fill="#00CBCC"/>
<polygon points="849.13,4209.7 828.63,4197.7 828.63,4221.7" fill="#00CBCC"/>
<polygon points="1096.8,4214.9 1076.3,4202.9 1076.3,4226.9" fill="#00CBCC"/>
<polygon points="1344.47,4207.6 1323.97,4195.6 1323.97,4219.6" fill="#00CBCC"/>
<polygon points="1592.13,4187.3 1571.63,4175.3 1571.63,4199.3" fill="#00CBCC"/>
<polygon points="1839.8,4106.5 1819.3,4094.5 1819.3,4118.5" fill="#00CBCC"/>
<path d="M340.5,4167.5C423.06,4192.98 505.61,4218.47 588.17,4232.6C670.72,4246.73 753.28,4249.51 835.83,4251.9C918.39,4254.29 1000.94,4256.29 1083.5,4255.6C1166.06,4254.91 1248.61,4251.52 1331.17,4249.3C1413.72,4247.08 1496.28,4246.04 1578.83,4232.6C1661.39,4219.16 1743.94,4193.33 1826.5,4167.5" fill="none" stroke="#7D4E4E" stroke-width="9.4" stroke-linejoin="round"/>
<polygon points="340.5,4156.3 350.5,4161.9 350.5,4173.1 340.5,4178.7 330.5,4173.1 330.5,4161.9" fill="#7D4E4E"/>
<polygon points="588.17,4221.4 598.17,4227 598.17,4238.2 588.17,4243.8 578.17,4238.2 578.17,4227" fill="#7D4E4E"/>
<polygon points="835.83,4240.7 845.83,4246.3 845.83,4257.5 835.83,4263.1 825.83,4257.5 825.83,4246.3" fill="#7D4E4E"/>
<polygon points="1083.5,4244.4 1093.5,4250 1093.5,4261.2 1083.5,4266.8 1073.5,4261.2 1073.5,4250" fill="#7D4E4E"/>
<polygon points="1331.17,4238.1 1341.17,4243.7 1341.17,4254.9 1331.17,4260.5 1321.17,4254.9 1321.17,4243.7" fill="#7D4E4E"/>
<polygon points="1578.83,4221.4 1588.83,4227 1588.83,4238.2 1578.83,4243.8 1568.83,4238.2 1568.83,4227" fill="#7D4E4E"/>
<polygon points="1826.5,4156.3 1836.5,4161.9 1836.5,4173.1 1826.5,4178.7 1816.5,4173.1 1816.5,4161.9" fill="#7D4E4E"/>
</g>
<g fill="#000" shape-rendering="crispEdges">
<rect x="338" y="3116" width="5" height="1198"/>
<rect x="338" y="4308" width="1491" height="6"/>
<rect x="338" y="3116" width="26" height="5"/>
<rect x="1824" y="4287" width="5" height="27"/>
</g>
<g fill="#000">
<rect x="339" y="3234.95" width="25" height="5.6"/>
<rect x="339" y="3354.2" width="25" height="5.6"/>
<rect x="339" y="3473.45" width="25" height="5.6"/>
<rect x="339" y="3592.7" width="25" height="5.6"/>
<rect x="339" y="3711.95" width="25" height="5.6"/>
<rect x="339" y="3831.2" width="25" height="5.6"/>
<rect x="339" y="3950.45" width="25" height="5.6"/>
<rect x="339" y="4069.7" width="25" height="5.6"/>
<rect x="339" y="4188.95" width="25" height="5.6"/>
<rect x="585.37" y="4287" width="5.6" height="26"/>
<rect x="833.03" y="4287" width="5.6" height="26"/>
<rect x="1080.7" y="4287" width="5.6" height="26"/>
<rect x="1328.37" y="4287" width="5.6" height="26"/>
<rect x="1576.03" y="4287" width="5.6" height="26"/>
</g>
<g font-size="51.5" text-anchor="end" letter-spacing="0">
<text x="315.1" y="3137.2" letter-spacing="-0.3">1.0×10<tspan font-size="33" dy="-21.3"><tspan font-size="37">−</tspan>3</tspan></text>
<text x="315.1" y="3256.45" letter-spacing="-0.3">8.0×10<tspan font-size="33" dy="-21.3"><tspan font-size="37">−</tspan>4</tspan></text>
<text x="315.1" y="3375.7" letter-spacing="-0.3">6.0×10<tspan font-size="33" dy="-21.3"><tspan font-size="37">−</tspan>4</tspan></text>
<text x="315.1" y="3494.95" letter-spacing="-0.3">4.0×10<tspan font-size="33" dy="-21.3"><tspan font-size="37">−</tspan>4</tspan></text>
<text x="315.1" y="3614.2" letter-spacing="-0.3">2.0×10<tspan font-size="33" dy="-21.3"><tspan font-size="37">−</tspan>4</tspan></text>
<text x="316.3" y="3729.15">0.0</text>
<text x="315.1" y="3852.7" letter-spacing="-0.3"><tspan font-size="58">−</tspan>2.0×10<tspan font-size="33" dy="-21.3"><tspan font-size="37">−</tspan>4</tspan></text>
<text x="315.1" y="3971.95" letter-spacing="-0.3"><tspan font-size="58">−</tspan>4.0×10<tspan font-size="33" dy="-21.3"><tspan font-size="37">−</tspan>4</tspan></text>
<text x="315.1" y="4091.2" letter-spacing="-0.3"><tspan font-size="58">−</tspan>6.0×10<tspan font-size="33" dy="-21.3"><tspan font-size="37">−</tspan>4</tspan></text>
<text x="315.1" y="4210.45" letter-spacing="-0.3"><tspan font-size="58">−</tspan>8.0×10<tspan font-size="33" dy="-21.3"><tspan font-size="37">−</tspan>4</tspan></text>
<text x="315.1" y="4329.7" letter-spacing="-0.3"><tspan font-size="58">−</tspan>1.0×10<tspan font-size="33" dy="-21.3"><tspan font-size="37">−</tspan>3</tspan></text>
</g>
<g font-size="51.5" text-anchor="middle">
<text x="340.5" y="4375">1</text>
<text x="588.17" y="4375">2</text>
<text x="835.83" y="4375">3</text>
<text x="1083.5" y="4375">4</text>
<text x="1331.17" y="4375">5</text>
<text x="1578.83" y="4375">6</text>
<text x="1826.5" y="4375">7</text>
</g>
<clipPath id="yclip3"><rect x="40" y="3251.7" width="200" height="928.2"/></clipPath>
<g clip-path="url(#yclip3)">
<text transform="translate(80.9,4129.9) rotate(-90)" font-size="61.3" letter-spacing="0.272" class="ti">Winding electromagnetic force/N</text>
</g>
<text x="871.9" y="4473.2" font-size="61.3" letter-spacing="0.743" class="ti">Winding number</text>
<rect x="1845.1" y="3131.7" width="186.8" height="599" fill="#fff" stroke="#000" stroke-width="2.2" shape-rendering="crispEdges"/>
<rect x="1848" y="3162.33" width="124" height="9.4" rx="3" fill="#515151"/>
<rect x="1901.2" y="3158.03" width="18" height="18" fill="#515151"/>
<text class="lg" x="1980" y="3184.73" font-size="52">S<tspan font-size="33.5" dx="0.3" dy="12.6">1</tspan></text>
<rect x="1848" y="3236.47" width="124" height="9.4" rx="3" fill="#F14040"/>
<circle cx="1910.2" cy="3241.17" r="10" fill="#F14040"/>
<text class="lg" x="1980" y="3258.87" font-size="52">S<tspan font-size="33.5" dx="0.3" dy="12.6">2</tspan></text>
<rect x="1848" y="3310.61" width="124" height="9.4" rx="3" fill="#1A6FDF"/>
<polygon points="1910.2,3302.01 1922.2,3322.01 1898.2,3322.01" fill="#1A6FDF"/>
<text class="lg" x="1980" y="3333.01" font-size="52">S<tspan font-size="33.5" dx="0.3" dy="12.6">3</tspan></text>
<rect x="1848" y="3384.75" width="124" height="9.4" rx="3" fill="#37AD6B"/>
<polygon points="1910.2,3402.75 1922.2,3382.75 1898.2,3382.75" fill="#37AD6B"/>
<text class="lg" x="1980" y="3407.15" font-size="52">S<tspan font-size="33.5" dx="0.3" dy="12.6">4</tspan></text>
<rect x="1848" y="3458.89" width="124" height="9.4" rx="3" fill="#B177DE"/>
<polygon points="1910.2,3450.49 1922.8,3463.59 1910.2,3476.69 1897.6,3463.59" fill="#B177DE"/>
<text class="lg" x="1980" y="3481.29" font-size="52">P<tspan font-size="33.5" dx="0.3" dy="12.6">1</tspan></text>
<rect x="1848" y="3533.03" width="124" height="9.4" rx="3" fill="#CC9900"/>
<polygon points="1896.9,3537.73 1916.4,3525.73 1916.4,3549.73" fill="#CC9900"/>
<text class="lg" x="1980" y="3555.43" font-size="52">P<tspan font-size="33.5" dx="0.3" dy="12.6">2</tspan></text>
<rect x="1848" y="3607.17" width="124" height="9.4" rx="3" fill="#00CBCC"/>
<polygon points="1923.5,3611.87 1903,3599.87 1903,3623.87" fill="#00CBCC"/>
<text class="lg" x="1980" y="3629.57" font-size="52">P<tspan font-size="33.5" dx="0.3" dy="12.6">3</tspan></text>
<rect x="1848" y="3681.31" width="124" height="9.4" rx="3" fill="#7D4E4E"/>
<polygon points="1910.2,3674.81 1920.2,3680.41 1920.2,3691.61 1910.2,3697.21 1900.2,3691.61 1900.2,3680.41" fill="#7D4E4E"/>
<text class="lg" x="1980" y="3703.71" font-size="52">P<tspan font-size="33.5" dx="0.3" dy="12.6">4</tspan></text>
</g>
<g id="captions">
<text x="662.17" y="1525.1" font-size="78.3" letter-spacing="0.262">(a) no cross transposition</text>
<text x="597.07" y="3051.3" font-size="78.3" letter-spacing="0.349">(b) partial cross transposition</text>
<text x="538.37" y="4576.8" font-size="78.3" letter-spacing="0.338">(c) complete cross transposition</text>
</g>
</svg>
</body>
</html>
